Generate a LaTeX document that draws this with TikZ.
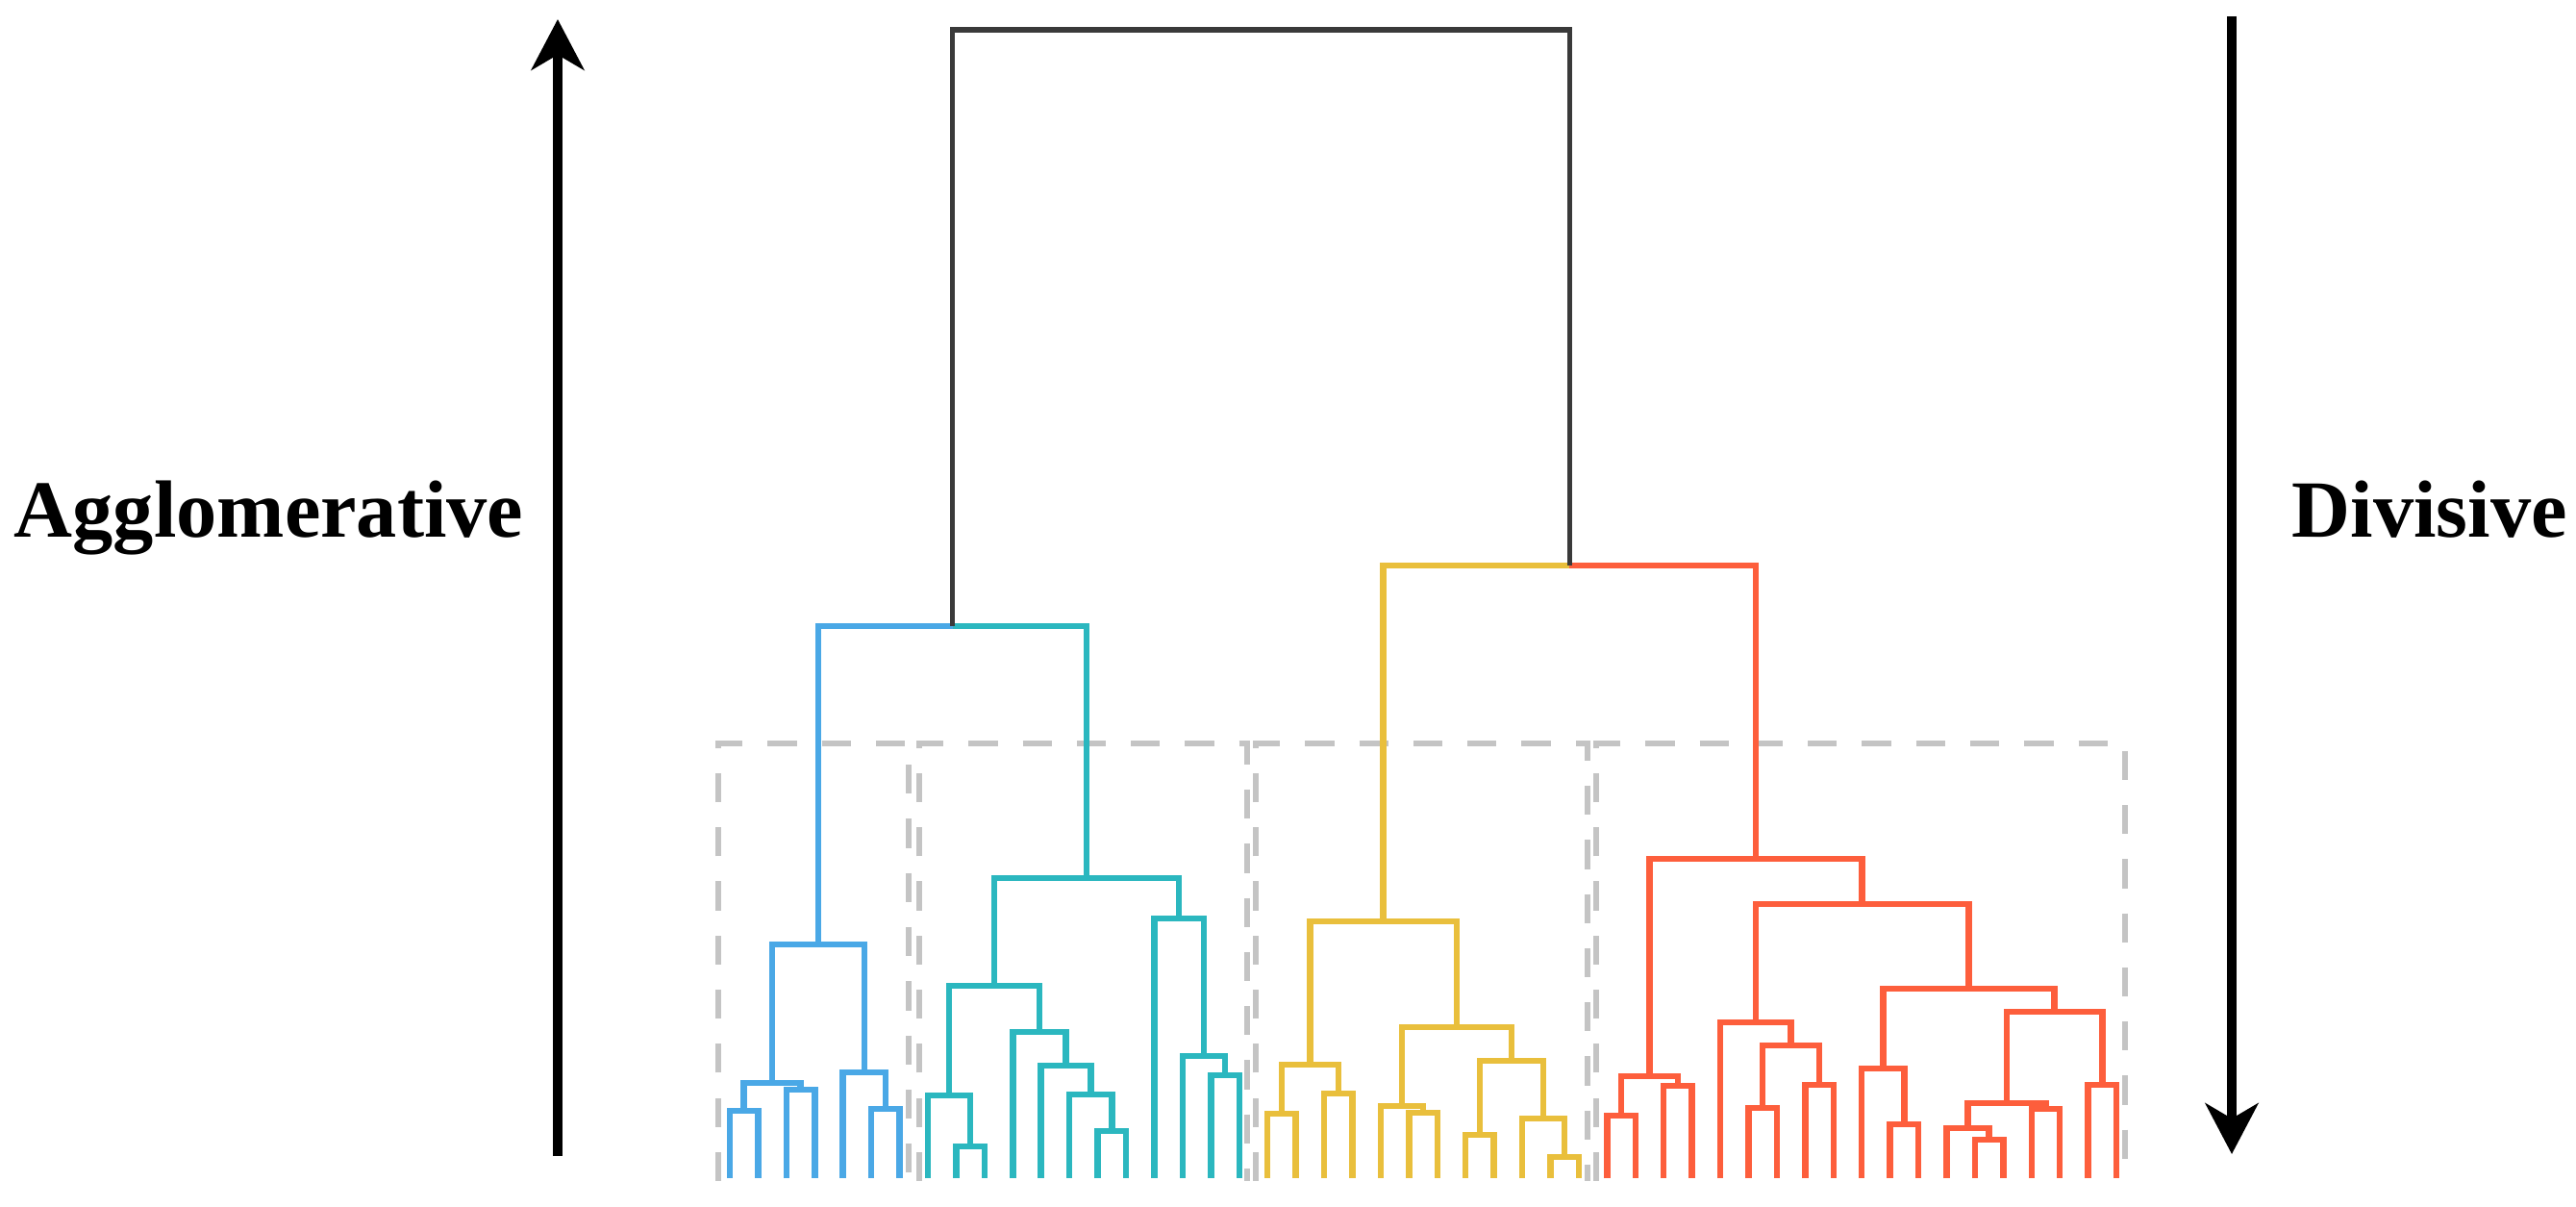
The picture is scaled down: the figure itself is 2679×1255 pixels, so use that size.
\documentclass[tikz,border=0pt]{standalone}
\usepackage{fontspec}
\setmainfont{Liberation Serif}
\usetikzlibrary{arrows.meta,calc}
\definecolor{cblue}{HTML}{4AA8E6}
\definecolor{cteal}{HTML}{2BB7BF}
\definecolor{cyel}{HTML}{E9BF3C}
\definecolor{cred}{HTML}{FD5E3C}
\definecolor{croot}{HTML}{3A3A3A}
\definecolor{cdash}{HTML}{C4C4C4}
\newcommand\dgx[1]{759+29.43*(#1)}
\begin{document}
\begin{tikzpicture}[x=0.01cm,y=-0.01cm,
  link/.style={line width=1.85pt},
  bl/.style={link,draw=cblue},
  tl/.style={link,draw=cteal},
  yl/.style={link,draw=cyel},
  rl/.style={link,draw=cred},
  rootlink/.style={line width=1.6pt,draw=croot},
  clusterbox/.style={draw=cdash,line width=1.9pt,dash pattern=on 8.6pt off 7.4pt},
  bigarrow/.style={line width=2.9pt,-{Stealth[length=15pt,width=15.6pt,inset=4.5pt]}},
  lab/.style={font=\fontsize{24}{28}\selectfont\bfseries,inner sep=0pt,anchor=base west}]
\useasboundingbox (0,0) rectangle (2679,1255);

% dashed cluster boxes (open at the bottom)
\coordinate (k1a) at (747,1228); \coordinate (k1b) at (945,773);
\coordinate (k2a) at (956,1228); \coordinate (k2b) at (1297,773);
\coordinate (k3a) at (1306,1228); \coordinate (k3b) at (1651,773);
\coordinate (k4a) at (1660,1228); \coordinate (k4b) at (2210,773);
\draw[clusterbox] (k1a) |- (k1b) -- (k1b |- k1a);
\draw[clusterbox] (k2a) |- (k2b) -- (k2b |- k2a);
\draw[clusterbox] (k3a) |- (k3b) -- (k3b |- k3a);
\draw[clusterbox] (k4a) |- (k4b) -- (k4b |- k4a);

% leaves
\foreach \i in {0,...,49} { \coordinate (L\i) at ({\dgx{\i}},1225); }

% blue cluster
\coordinate (b01) at ({\dgx{0.5}},1155);
\coordinate (b23) at ({\dgx{2.5}},1133);
\coordinate (bA) at ({\dgx{1.5}},1126);
\coordinate (b56) at ({\dgx{5.5}},1153);
\coordinate (bB) at ({\dgx{4.75}},1115);
\coordinate (bR) at ({\dgx{3.125}},982);
\draw[bl] (L0) |- (b01) -| (L1);
\draw[bl] (L2) |- (b23) -| (L3);
\draw[bl] (b01) |- (bA) -| (b23);
\draw[bl] (L5) |- (b56) -| (L6);
\draw[bl] (L4) |- (bB) -| (b56);
\draw[bl] (bA) |- (bR) -| (bB);

% teal cluster
\coordinate (t89) at ({\dgx{8.5}},1192);
\coordinate (tA) at ({\dgx{7.75}},1139);
\coordinate (t1314) at ({\dgx{13.5}},1176);
\coordinate (tB) at ({\dgx{12.75}},1138);
\coordinate (tC) at ({\dgx{11.875}},1108);
\coordinate (tD) at ({\dgx{10.9375}},1073);
\coordinate (tE) at ({\dgx{9.34375}},1025);
\coordinate (t1718) at ({\dgx{17.5}},1118);
\coordinate (tF) at ({\dgx{16.75}},1098);
\coordinate (tG) at ({\dgx{15.875}},955);
\coordinate (tR) at ({\dgx{12.609}},913);
\draw[tl] (L8) |- (t89) -| (L9);
\draw[tl] (L7) |- (tA) -| (t89);
\draw[tl] (L13) |- (t1314) -| (L14);
\draw[tl] (L12) |- (tB) -| (t1314);
\draw[tl] (L11) |- (tC) -| (tB);
\draw[tl] (L10) |- (tD) -| (tC);
\draw[tl] (tA) |- (tE) -| (tD);
\draw[tl] (L17) |- (t1718) -| (L18);
\draw[tl] (L16) |- (tF) -| (t1718);
\draw[tl] (L15) |- (tG) -| (tF);
\draw[tl] (tE) |- (tR) -| (tG);

% yellow cluster
\coordinate (y1920) at ({\dgx{19.5}},1158);
\coordinate (y2122) at ({\dgx{21.5}},1137);
\coordinate (yA) at ({\dgx{20.5}},1107);
\coordinate (y2425) at ({\dgx{24.5}},1157);
\coordinate (yB) at ({\dgx{23.75}},1150);
\coordinate (y2627) at ({\dgx{26.5}},1180);
\coordinate (y2930) at ({\dgx{29.5}},1203);
\coordinate (yC) at ({\dgx{28.75}},1163);
\coordinate (yD) at ({\dgx{27.625}},1103);
\coordinate (yE) at ({\dgx{25.6875}},1068);
\coordinate (yR) at ({\dgx{23.09375}},958);
\draw[yl] (L19) |- (y1920) -| (L20);
\draw[yl] (L21) |- (y2122) -| (L22);
\draw[yl] (y1920) |- (yA) -| (y2122);
\draw[yl] (L24) |- (y2425) -| (L25);
\draw[yl] (L23) |- (yB) -| (y2425);
\draw[yl] (L26) |- (y2627) -| (L27);
\draw[yl] (L29) |- (y2930) -| (L30);
\draw[yl] (L28) |- (yC) -| (y2930);
\draw[yl] (y2627) |- (yD) -| (yC);
\draw[yl] (yB) |- (yE) -| (yD);
\draw[yl] (yA) |- (yR) -| (yE);

% red cluster
\coordinate (r3132) at ({\dgx{31.5}},1160);
\coordinate (r3334) at ({\dgx{33.5}},1129);
\coordinate (rA) at ({\dgx{32.5}},1119);
\coordinate (r3637) at ({\dgx{36.5}},1152);
\coordinate (r3839) at ({\dgx{38.5}},1128);
\coordinate (rB) at ({\dgx{37.5}},1087);
\coordinate (rC) at ({\dgx{36.25}},1063);
\coordinate (r4142) at ({\dgx{41.5}},1169);
\coordinate (rD) at ({\dgx{40.75}},1111);
\coordinate (r4445) at ({\dgx{44.5}},1185);
\coordinate (rE) at ({\dgx{43.75}},1173);
\coordinate (r4647) at ({\dgx{46.5}},1153);
\coordinate (rF) at ({\dgx{45.125}},1147);
\coordinate (r4849) at ({\dgx{48.5}},1128);
\coordinate (rG) at ({\dgx{46.8125}},1052);
\coordinate (rH) at ({\dgx{43.78}},1028);
\coordinate (rI) at ({\dgx{40.016}},940);
\coordinate (rR) at ({\dgx{36.258}},893);
\draw[rl] (L31) |- (r3132) -| (L32);
\draw[rl] (L33) |- (r3334) -| (L34);
\draw[rl] (r3132) |- (rA) -| (r3334);
\draw[rl] (L36) |- (r3637) -| (L37);
\draw[rl] (L38) |- (r3839) -| (L39);
\draw[rl] (r3637) |- (rB) -| (r3839);
\draw[rl] (L35) |- (rC) -| (rB);
\draw[rl] (L41) |- (r4142) -| (L42);
\draw[rl] (L40) |- (rD) -| (r4142);
\draw[rl] (L44) |- (r4445) -| (L45);
\draw[rl] (L43) |- (rE) -| (r4445);
\draw[rl] (L46) |- (r4647) -| (L47);
\draw[rl] (rE) |- (rF) -| (r4647);
\draw[rl] (L48) |- (r4849) -| (L49);
\draw[rl] (rF) |- (rG) -| (r4849);
\draw[rl] (rD) |- (rH) -| (rG);
\draw[rl] (rC) |- (rI) -| (rH);
\draw[rl] (rA) |- (rR) -| (rI);

% upper joins
\coordinate (J1) at (990.5,651);
\coordinate (J2) at (1632.3,588);
\coordinate (top) at (1311,31);
\draw[bl] (bR) |- (J1);
\draw[tl] (tR) |- (J1);
\draw[yl] (yR) |- (J2);
\draw[rl] (rR) |- (J2);
\draw[rootlink] (J1) |- (top) -| (J2);

% arrows
\coordinate (aS) at (580,1202); \coordinate (aE) at (580,20);
\coordinate (dS) at (2321,17); \coordinate (dE) at (2321,1200);
\draw[bigarrow] (aS) -- (aE);
\draw[bigarrow] (dS) -- (dE);

% labels
\node[lab] (agg) at (14,558) {Agglomerative};
\node[lab] (div) at (2383,558) {Divisive};
\end{tikzpicture}
\end{document}
